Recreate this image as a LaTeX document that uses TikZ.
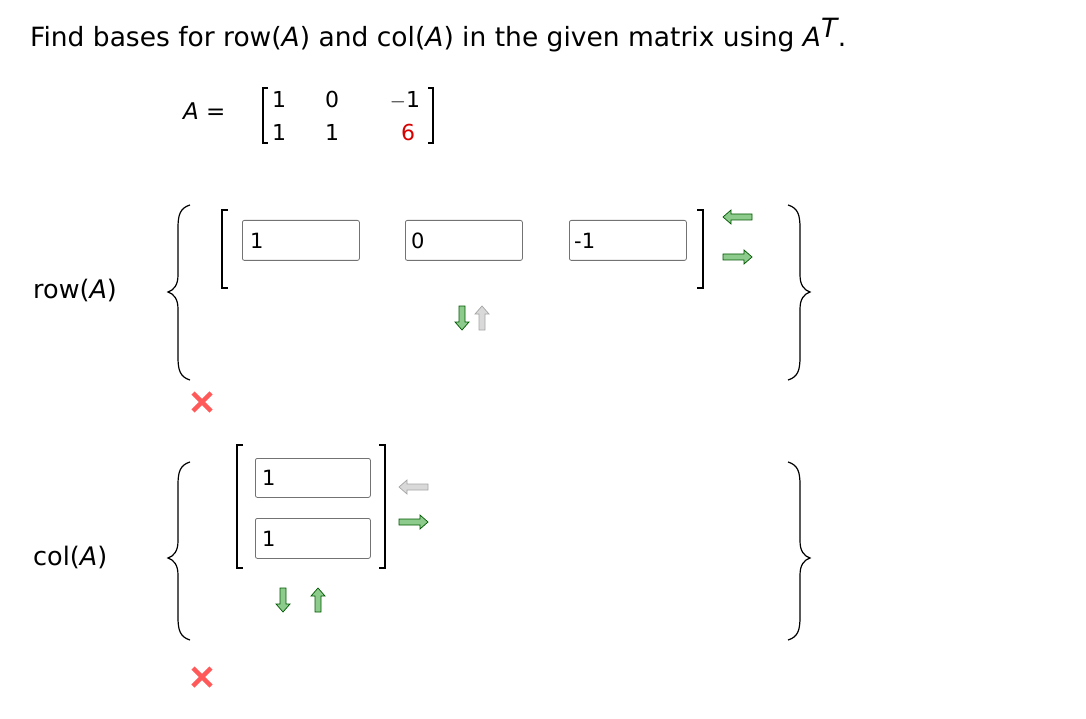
\documentclass[tikz,border=0pt]{standalone}
\usepackage{fontspec}
\setmainfont{DejaVu Sans}
\begin{document}
\begin{tikzpicture}[x=1pt,y=-1pt,
  lbl/.style={anchor=base west,inner sep=0pt,font=\fontsize{25.5}{30}\selectfont},
  ent/.style={anchor=base,inner sep=0pt,font=\fontsize{22}{26}\selectfont},
  ibox/.style={draw=black!55,rounded corners=2pt,line width=0.8pt,minimum width=117pt,minimum height=40pt,anchor=north west,inner sep=0pt},
  itext/.style={anchor=base west,inner sep=0pt,font=\fontsize{21}{25}\selectfont},
  brk/.style={line width=1.3pt},
  brc/.style={line width=1.2pt},
  garrow/.style={fill=green!55!black!45,draw=green!35!black,line width=0.7pt},
  grarrow/.style={fill=black!15,draw=black!35,line width=0.7pt},
  xmark/.style={red!65,line width=4.5pt}]
\useasboundingbox (0,0) rectangle (1086,719);
\fill[white] (0,0) rectangle (1086,719);
\node[lbl,font=\fontsize{26.5}{31}\selectfont] (title) at (30,47) {Find bases for row(\textit{A}) and col(\textit{A}) in the given matrix using \textit{A}$^{\textit{T}}$.};
% matrix A
\node[lbl,font=\fontsize{23}{28}\selectfont] (Aeq) at (183,120) {\textit{A} =};
\draw[brk] (268,88) -- (263,88) -- (263,143) -- (268,143);
\draw[brk] (428,88) -- (433,88) -- (433,143) -- (428,143);
\node[ent] (a11) at (279,108) {1};
\node[ent] (a12) at (332,108) {0};
\node[ent] (a13) at (405,108) {$-$1};
\node[ent] (a21) at (279,141) {1};
\node[ent] (a22) at (332,141) {1};
\node[ent,red!85!black] (a23) at (408,141) {6};
% row(A)
\node[lbl] (rowlbl) at (33,298) {row(\textit{A})};
\draw[brc] (190,205) .. controls (180,208) and (178,215) .. (178,228) -- (178,275) .. controls (178,285) and (174,290) .. (168,292) .. controls (174,294) and (178,299) .. (178,309) -- (178,357) .. controls (178,370) and (180,377) .. (190,380);
\draw[brc] (788,205) .. controls (798,208) and (800,215) .. (800,228) -- (800,275) .. controls (800,285) and (804,290) .. (810,292) .. controls (804,294) and (800,299) .. (800,309) -- (800,357) .. controls (800,370) and (798,377) .. (788,380);
\draw[brk] (228,210) -- (222,210) -- (222,288) -- (228,288);
\draw[brk] (697,210) -- (703,210) -- (703,288) -- (697,288);
\node[ibox] (r1) at (242,220) {};
\node[ibox] (r2) at (405,220) {};
\node[ibox] (r3) at (569,220) {};
\node[itext] at (250,248) {1};
\node[itext] at (411,248) {0};
\node[itext] at (574,248) {-1};
% side arrows row
\draw[garrow] (723,217) -- (731,210) -- (731,214) -- (752,214) -- (752,220) -- (731,220) -- (731,224) -- cycle;
\draw[garrow] (752,257) -- (744,250) -- (744,254) -- (723,254) -- (723,260) -- (744,260) -- (744,264) -- cycle;
\draw[garrow] (462,330) -- (455,322) -- (459,322) -- (459,306) -- (465,306) -- (465,322) -- (469,322) -- cycle;
\draw[grarrow] (482,306) -- (475,314) -- (479,314) -- (479,330) -- (485,330) -- (485,314) -- (489,314) -- cycle;
\draw[xmark] (193,393) -- (211,411) (211,393) -- (193,411);
% col(A)
\node[lbl] (collbl) at (33,565) {col(\textit{A})};
\draw[brc] (190,462) .. controls (180,465) and (178,472) .. (178,485) -- (178,541) .. controls (178,551) and (174,556) .. (168,558) .. controls (174,560) and (178,565) .. (178,575) -- (178,617) .. controls (178,630) and (180,637) .. (190,640);
\draw[brc] (788,462) .. controls (798,465) and (800,472) .. (800,485) -- (800,541) .. controls (800,551) and (804,556) .. (810,558) .. controls (804,560) and (800,565) .. (800,575) -- (800,617) .. controls (800,630) and (798,637) .. (788,640);
\draw[brk] (243,445) -- (237,445) -- (237,568) -- (243,568);
\draw[brk] (379,445) -- (385,445) -- (385,568) -- (379,568);
\node[ibox,minimum width=115pt,minimum height=39pt] (c1) at (255,458) {};
\node[ibox,minimum width=115pt,minimum height=40pt] (c2) at (255,518) {};
\node[itext] at (262,485) {1};
\node[itext] at (262,546) {1};
\draw[grarrow] (399,487) -- (407,480) -- (407,484) -- (428,484) -- (428,490) -- (407,490) -- (407,494) -- cycle;
\draw[garrow] (428,522) -- (420,515) -- (420,519) -- (399,519) -- (399,525) -- (420,525) -- (420,529) -- cycle;
\draw[garrow] (283,612) -- (276,604) -- (280,604) -- (280,588) -- (286,588) -- (286,604) -- (290,604) -- cycle;
\draw[garrow] (318,588) -- (311,596) -- (315,596) -- (315,612) -- (321,612) -- (321,596) -- (325,596) -- cycle;
\draw[xmark] (193,668) -- (211,686) (211,668) -- (193,686);
\end{tikzpicture}
\end{document}
